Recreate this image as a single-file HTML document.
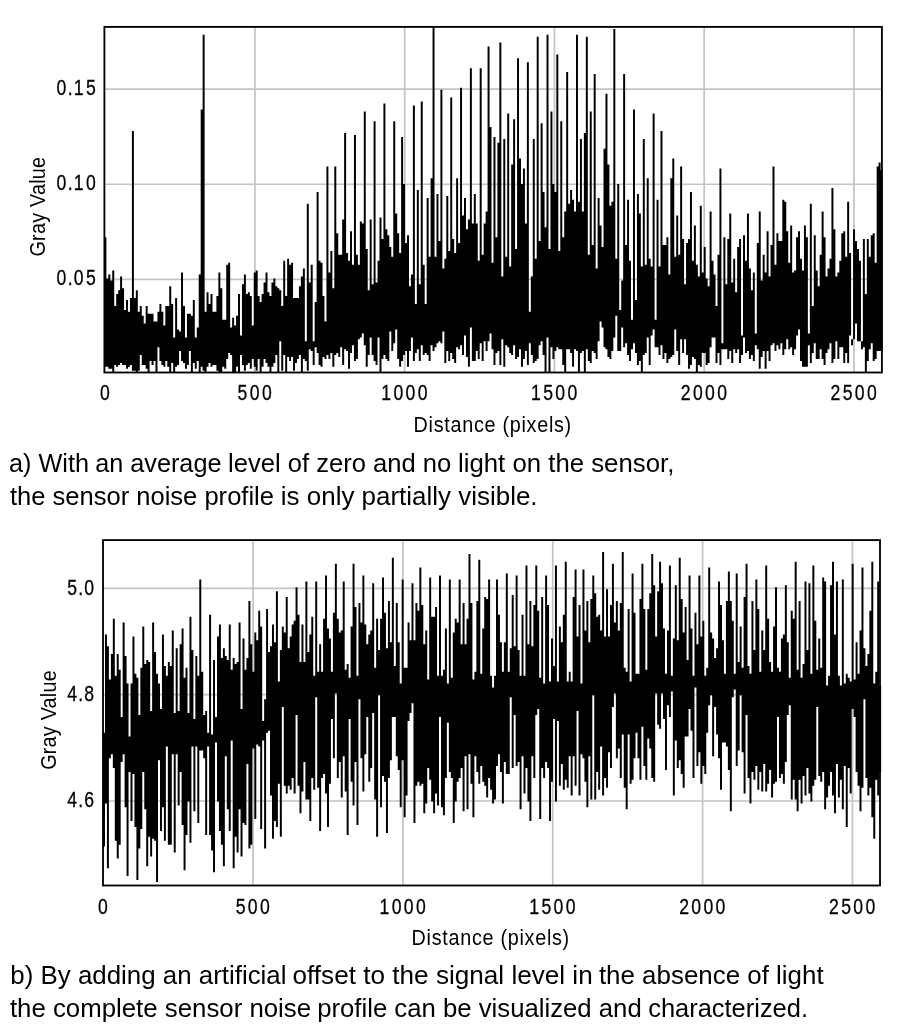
<!DOCTYPE html>
<html><head><meta charset="utf-8"><style>html,body{margin:0;padding:0;background:#fff;width:912px;height:1024px;overflow:hidden}svg{display:block}</style></head>
<body>
<svg width="912" height="1024" viewBox="0 0 912 1024">
<defs><filter id="bl" x="0" y="0" width="1" height="1"><feGaussianBlur stdDeviation="0.35"/></filter></defs>
<rect width="912" height="1024" fill="#fff"/>
<path d="M254.95 26.9V372.5M404.70 26.9V372.5M554.45 26.9V372.5M704.20 26.9V372.5M853.95 26.9V372.5M104.4 279.30H881.9M104.4 184.25H881.9M104.4 89.20H881.9" stroke="#c4c4c4" stroke-width="1.7" fill="none"/>
<path d="M104.40 237.2h1.97V366.8h-1.97zM106.37 278.4h1.97V366.8h-1.97zM108.33 274.5h1.97V368.8h-1.97zM110.30 280.4h1.97V368.8h-1.97zM112.26 270.6h1.97V372.5h-1.97zM114.23 305.9h1.97V364.9h-1.97zM116.19 294.1h1.97V366.8h-1.97zM118.16 290.2h1.97V364.9h-1.97zM120.12 276.5h1.97V362.9h-1.97zM122.09 288.2h1.97V364.9h-1.97zM124.05 309.9h1.97V364.9h-1.97zM126.02 300.0h1.97V368.8h-1.97zM127.98 311.8h1.97V366.8h-1.97zM129.95 298.1h1.97V364.9h-1.97zM131.91 131.0h1.97V370.8h-1.97zM133.88 298.1h1.97V370.8h-1.97zM135.84 290.2h1.97V372.5h-1.97zM137.81 311.8h1.97V370.8h-1.97zM139.77 305.9h1.97V355.1h-1.97zM141.74 315.8h1.97V364.9h-1.97zM143.70 323.6h1.97V364.9h-1.97zM145.67 305.9h1.97V368.8h-1.97zM147.63 313.8h1.97V372.5h-1.97zM149.60 313.8h1.97V360.9h-1.97zM151.56 313.8h1.97V364.9h-1.97zM153.53 321.6h1.97V360.9h-1.97zM155.49 321.6h1.97V372.5h-1.97zM157.46 311.8h1.97V347.2h-1.97zM159.42 304.0h1.97V360.9h-1.97zM161.39 311.8h1.97V364.9h-1.97zM163.35 325.6h1.97V366.8h-1.97zM165.32 305.9h1.97V360.9h-1.97zM167.28 305.9h1.97V366.8h-1.97zM169.25 286.3h1.97V372.5h-1.97zM171.21 304.0h1.97V362.9h-1.97zM173.18 337.4h1.97V372.5h-1.97zM175.14 298.1h1.97V366.8h-1.97zM177.11 329.5h1.97V364.9h-1.97zM179.07 331.5h1.97V351.1h-1.97zM181.04 272.5h1.97V360.9h-1.97zM183.00 305.9h1.97V362.9h-1.97zM184.97 337.4h1.97V368.8h-1.97zM186.93 313.8h1.97V364.9h-1.97zM188.90 313.8h1.97V351.1h-1.97zM190.86 315.8h1.97V372.5h-1.97zM192.83 300.0h1.97V362.9h-1.97zM194.79 337.4h1.97V368.8h-1.97zM196.76 327.5h1.97V360.9h-1.97zM198.72 274.5h1.97V372.5h-1.97zM200.69 109.4h1.97V366.8h-1.97zM202.65 34.8h1.97V370.8h-1.97zM204.62 311.8h1.97V372.5h-1.97zM206.58 292.2h1.97V366.8h-1.97zM208.55 304.0h1.97V362.9h-1.97zM210.51 294.1h1.97V366.8h-1.97zM212.48 311.8h1.97V364.9h-1.97zM214.44 311.8h1.97V364.9h-1.97zM216.41 296.1h1.97V370.8h-1.97zM218.37 272.5h1.97V372.5h-1.97zM220.34 288.2h1.97V372.5h-1.97zM222.30 319.7h1.97V366.8h-1.97zM224.27 319.7h1.97V368.8h-1.97zM226.23 264.7h1.97V359.0h-1.97zM228.20 262.7h1.97V353.1h-1.97zM230.16 327.5h1.97V355.1h-1.97zM232.13 317.7h1.97V372.5h-1.97zM234.09 325.6h1.97V372.5h-1.97zM236.06 315.8h1.97V366.8h-1.97zM238.02 294.1h1.97V372.5h-1.97zM239.99 335.4h1.97V355.1h-1.97zM241.95 284.3h1.97V364.9h-1.97zM243.92 274.5h1.97V370.8h-1.97zM245.88 294.1h1.97V364.9h-1.97zM247.84 292.2h1.97V362.9h-1.97zM249.81 296.1h1.97V368.8h-1.97zM251.78 325.6h1.97V359.0h-1.97zM253.74 272.5h1.97V366.8h-1.97zM255.71 270.6h1.97V370.8h-1.97zM257.67 296.1h1.97V359.0h-1.97zM259.63 302.0h1.97V372.5h-1.97zM261.60 294.1h1.97V366.8h-1.97zM263.56 282.4h1.97V359.0h-1.97zM265.53 272.5h1.97V362.9h-1.97zM267.50 292.2h1.97V366.8h-1.97zM269.46 296.1h1.97V372.5h-1.97zM271.43 282.4h1.97V366.8h-1.97zM273.39 278.4h1.97V362.9h-1.97zM275.36 286.3h1.97V355.1h-1.97zM277.32 288.2h1.97V372.5h-1.97zM279.29 290.2h1.97V341.3h-1.97zM281.25 305.9h1.97V370.8h-1.97zM283.21 260.7h1.97V355.1h-1.97zM285.18 296.1h1.97V372.5h-1.97zM287.14 258.8h1.97V357.0h-1.97zM289.11 264.7h1.97V360.9h-1.97zM291.07 262.7h1.97V357.0h-1.97zM293.04 298.1h1.97V370.8h-1.97zM295.00 298.1h1.97V362.9h-1.97zM296.97 298.1h1.97V359.0h-1.97zM298.94 286.3h1.97V355.1h-1.97zM300.90 276.5h1.97V372.5h-1.97zM302.87 268.6h1.97V359.0h-1.97zM304.83 341.3h1.97V360.9h-1.97zM306.80 203.8h1.97V370.8h-1.97zM308.76 282.4h1.97V349.2h-1.97zM310.73 264.7h1.97V351.1h-1.97zM312.69 341.3h1.97V364.9h-1.97zM314.65 302.0h1.97V347.2h-1.97zM316.62 192.0h1.97V353.1h-1.97zM318.58 260.7h1.97V364.9h-1.97zM320.55 262.7h1.97V366.8h-1.97zM322.51 296.1h1.97V357.0h-1.97zM324.48 321.6h1.97V359.0h-1.97zM326.44 166.4h1.97V355.1h-1.97zM328.41 272.5h1.97V359.0h-1.97zM330.38 250.9h1.97V353.1h-1.97zM332.34 288.2h1.97V366.8h-1.97zM334.31 166.4h1.97V355.1h-1.97zM336.27 233.2h1.97V353.1h-1.97zM338.24 254.8h1.97V357.0h-1.97zM340.20 254.8h1.97V347.2h-1.97zM342.17 219.5h1.97V364.9h-1.97zM344.13 133.0h1.97V349.2h-1.97zM346.10 252.9h1.97V351.1h-1.97zM348.06 260.7h1.97V368.8h-1.97zM350.02 231.3h1.97V353.1h-1.97zM351.99 264.7h1.97V345.2h-1.97zM353.95 135.0h1.97V360.9h-1.97zM355.92 254.8h1.97V359.0h-1.97zM357.88 264.7h1.97V339.3h-1.97zM359.85 221.4h1.97V337.4h-1.97zM361.81 223.4h1.97V333.4h-1.97zM363.78 111.4h1.97V345.2h-1.97zM365.75 248.9h1.97V366.8h-1.97zM367.71 290.2h1.97V355.1h-1.97zM369.68 219.5h1.97V337.4h-1.97zM371.64 284.3h1.97V355.1h-1.97zM373.60 121.2h1.97V360.9h-1.97zM375.57 282.4h1.97V364.9h-1.97zM377.53 260.7h1.97V337.4h-1.97zM379.50 217.5h1.97V372.5h-1.97zM381.46 239.1h1.97V359.0h-1.97zM383.43 103.5h1.97V355.1h-1.97zM385.39 229.3h1.97V359.0h-1.97zM387.36 235.2h1.97V360.9h-1.97zM389.32 247.0h1.97V331.5h-1.97zM391.29 256.8h1.97V351.1h-1.97zM393.25 121.2h1.97V343.3h-1.97zM395.22 213.6h1.97V329.5h-1.97zM397.19 233.2h1.97V359.0h-1.97zM399.15 252.9h1.97V366.8h-1.97zM401.12 136.9h1.97V360.9h-1.97zM403.08 184.1h1.97V355.1h-1.97zM405.05 243.1h1.97V351.1h-1.97zM407.01 235.2h1.97V366.8h-1.97zM408.97 286.3h1.97V351.1h-1.97zM410.94 274.5h1.97V337.4h-1.97zM412.90 105.5h1.97V360.9h-1.97zM414.87 304.0h1.97V353.1h-1.97zM416.83 190.0h1.97V349.2h-1.97zM418.80 284.3h1.97V360.9h-1.97zM420.76 101.6h1.97V345.2h-1.97zM422.73 264.7h1.97V355.1h-1.97zM424.69 304.0h1.97V353.1h-1.97zM426.66 197.9h1.97V355.1h-1.97zM428.62 256.8h1.97V360.9h-1.97zM430.59 178.2h1.97V345.2h-1.97zM432.56 26.9h1.97V351.1h-1.97zM434.52 256.8h1.97V347.2h-1.97zM436.49 193.9h1.97V343.3h-1.97zM438.45 241.1h1.97V341.3h-1.97zM440.41 89.8h1.97V343.3h-1.97zM442.38 268.6h1.97V331.5h-1.97zM444.34 258.8h1.97V362.9h-1.97zM446.31 195.9h1.97V351.1h-1.97zM448.27 250.9h1.97V360.9h-1.97zM450.24 97.6h1.97V353.1h-1.97zM452.20 239.1h1.97V359.0h-1.97zM454.17 252.9h1.97V362.9h-1.97zM456.13 178.2h1.97V347.2h-1.97zM458.10 243.1h1.97V349.2h-1.97zM460.06 87.8h1.97V345.2h-1.97zM462.03 215.5h1.97V355.1h-1.97zM464.00 197.9h1.97V335.4h-1.97zM465.96 229.3h1.97V357.0h-1.97zM467.93 219.5h1.97V366.8h-1.97zM469.89 68.2h1.97V327.5h-1.97zM471.86 223.4h1.97V360.9h-1.97zM473.82 193.9h1.97V360.9h-1.97zM475.78 223.4h1.97V351.1h-1.97zM477.75 260.7h1.97V359.0h-1.97zM479.71 68.2h1.97V343.3h-1.97zM481.68 254.8h1.97V360.9h-1.97zM483.64 223.4h1.97V341.3h-1.97zM485.61 211.6h1.97V351.1h-1.97zM487.57 46.5h1.97V341.3h-1.97zM489.54 127.1h1.97V333.4h-1.97zM491.50 262.7h1.97V349.2h-1.97zM493.47 136.9h1.97V364.9h-1.97zM495.44 237.2h1.97V353.1h-1.97zM497.40 142.8h1.97V351.1h-1.97zM499.37 42.6h1.97V364.9h-1.97zM501.33 276.5h1.97V339.3h-1.97zM503.30 138.9h1.97V366.8h-1.97zM505.26 256.8h1.97V345.2h-1.97zM507.22 113.4h1.97V347.2h-1.97zM509.19 266.6h1.97V353.1h-1.97zM511.16 164.5h1.97V355.1h-1.97zM513.12 119.3h1.97V345.2h-1.97zM515.09 248.9h1.97V359.0h-1.97zM517.05 58.3h1.97V357.0h-1.97zM519.02 158.6h1.97V349.2h-1.97zM520.98 184.1h1.97V366.8h-1.97zM522.95 168.4h1.97V359.0h-1.97zM524.91 223.4h1.97V351.1h-1.97zM526.88 62.3h1.97V364.9h-1.97zM528.84 311.8h1.97V343.3h-1.97zM530.81 276.5h1.97V355.1h-1.97zM532.77 138.9h1.97V362.9h-1.97zM534.74 258.8h1.97V360.9h-1.97zM536.70 36.7h1.97V359.0h-1.97zM538.67 241.1h1.97V345.2h-1.97zM540.63 123.2h1.97V341.3h-1.97zM542.60 192.0h1.97V355.1h-1.97zM544.56 227.3h1.97V372.5h-1.97zM546.53 34.8h1.97V337.4h-1.97zM548.49 248.9h1.97V372.5h-1.97zM550.46 111.4h1.97V347.2h-1.97zM552.42 184.1h1.97V359.0h-1.97zM554.39 192.0h1.97V351.1h-1.97zM556.35 54.4h1.97V347.2h-1.97zM558.32 250.9h1.97V349.2h-1.97zM560.28 121.2h1.97V349.2h-1.97zM562.25 237.2h1.97V364.9h-1.97zM564.21 211.6h1.97V372.5h-1.97zM566.18 72.1h1.97V349.2h-1.97zM568.14 203.8h1.97V349.2h-1.97zM570.11 190.0h1.97V353.1h-1.97zM572.07 199.8h1.97V366.8h-1.97zM574.04 211.6h1.97V349.2h-1.97zM576.00 34.8h1.97V351.1h-1.97zM577.97 201.8h1.97V372.5h-1.97zM579.93 138.9h1.97V353.1h-1.97zM581.90 211.6h1.97V351.1h-1.97zM583.86 133.0h1.97V372.5h-1.97zM585.83 36.7h1.97V349.2h-1.97zM587.79 254.8h1.97V360.9h-1.97zM589.76 111.4h1.97V362.9h-1.97zM591.72 245.0h1.97V351.1h-1.97zM593.69 74.1h1.97V353.1h-1.97zM595.65 268.6h1.97V359.0h-1.97zM597.62 197.9h1.97V341.3h-1.97zM599.58 225.4h1.97V321.6h-1.97zM601.55 247.0h1.97V327.5h-1.97zM603.51 148.7h1.97V347.2h-1.97zM605.48 93.7h1.97V349.2h-1.97zM607.44 164.5h1.97V357.0h-1.97zM609.41 205.7h1.97V359.0h-1.97zM611.37 201.8h1.97V351.1h-1.97zM613.34 28.9h1.97V337.4h-1.97zM615.30 258.8h1.97V315.8h-1.97zM617.27 184.1h1.97V351.1h-1.97zM619.23 309.9h1.97V351.1h-1.97zM621.20 280.4h1.97V327.5h-1.97zM623.16 74.1h1.97V347.2h-1.97zM625.13 245.0h1.97V343.3h-1.97zM627.09 199.8h1.97V355.1h-1.97zM629.06 260.7h1.97V360.9h-1.97zM631.02 319.7h1.97V349.2h-1.97zM632.99 109.4h1.97V343.3h-1.97zM634.95 300.0h1.97V353.1h-1.97zM636.92 193.9h1.97V364.9h-1.97zM638.88 213.6h1.97V360.9h-1.97zM640.85 266.6h1.97V372.5h-1.97zM642.81 138.9h1.97V355.1h-1.97zM644.78 264.7h1.97V353.1h-1.97zM646.74 178.2h1.97V337.4h-1.97zM648.71 258.8h1.97V364.9h-1.97zM650.67 266.6h1.97V335.4h-1.97zM652.64 113.4h1.97V329.5h-1.97zM654.60 319.7h1.97V347.2h-1.97zM656.57 199.8h1.97V347.2h-1.97zM658.53 266.6h1.97V355.1h-1.97zM660.50 131.0h1.97V345.2h-1.97zM662.46 245.0h1.97V359.0h-1.97zM664.43 245.0h1.97V353.1h-1.97zM666.39 237.2h1.97V362.9h-1.97zM668.36 274.5h1.97V359.0h-1.97zM670.32 178.2h1.97V357.0h-1.97zM672.29 158.6h1.97V355.1h-1.97zM674.25 256.8h1.97V329.5h-1.97zM676.22 215.5h1.97V351.1h-1.97zM678.18 254.8h1.97V364.9h-1.97zM680.15 166.4h1.97V339.3h-1.97zM682.11 239.1h1.97V353.1h-1.97zM684.08 284.3h1.97V339.3h-1.97zM686.04 243.1h1.97V355.1h-1.97zM688.01 239.1h1.97V368.8h-1.97zM689.97 192.0h1.97V364.9h-1.97zM691.94 260.7h1.97V357.0h-1.97zM693.90 225.4h1.97V359.0h-1.97zM695.87 264.7h1.97V372.5h-1.97zM697.83 276.5h1.97V364.9h-1.97zM699.80 205.7h1.97V366.8h-1.97zM701.76 272.5h1.97V353.1h-1.97zM703.73 247.0h1.97V353.1h-1.97zM705.69 278.4h1.97V364.9h-1.97zM707.66 286.3h1.97V362.9h-1.97zM709.62 211.6h1.97V347.2h-1.97zM711.59 260.7h1.97V337.4h-1.97zM713.55 274.5h1.97V337.4h-1.97zM715.52 305.9h1.97V362.9h-1.97zM717.48 254.8h1.97V353.1h-1.97zM719.45 168.4h1.97V364.9h-1.97zM721.41 343.3h1.97V349.2h-1.97zM723.38 237.2h1.97V349.2h-1.97zM725.34 284.3h1.97V349.2h-1.97zM727.31 239.1h1.97V359.0h-1.97zM729.27 213.6h1.97V351.1h-1.97zM731.24 282.4h1.97V362.9h-1.97zM733.20 258.8h1.97V349.2h-1.97zM735.17 292.2h1.97V353.1h-1.97zM737.13 247.0h1.97V349.2h-1.97zM739.10 239.1h1.97V362.9h-1.97zM741.06 335.4h1.97V355.1h-1.97zM743.03 235.2h1.97V337.4h-1.97zM744.99 260.7h1.97V353.1h-1.97zM746.96 213.6h1.97V351.1h-1.97zM748.92 268.6h1.97V359.0h-1.97zM750.89 290.2h1.97V355.1h-1.97zM752.85 272.5h1.97V360.9h-1.97zM754.82 333.4h1.97V345.2h-1.97zM756.78 243.1h1.97V349.2h-1.97zM758.75 211.6h1.97V368.8h-1.97zM760.71 280.4h1.97V357.0h-1.97zM762.68 254.8h1.97V351.1h-1.97zM764.64 272.5h1.97V368.8h-1.97zM766.61 231.3h1.97V351.1h-1.97zM768.57 276.5h1.97V360.9h-1.97zM770.54 245.0h1.97V345.2h-1.97zM772.50 166.4h1.97V343.3h-1.97zM774.47 264.7h1.97V351.1h-1.97zM776.43 233.2h1.97V345.2h-1.97zM778.40 241.1h1.97V349.2h-1.97zM780.36 241.1h1.97V343.3h-1.97zM782.33 199.8h1.97V355.1h-1.97zM784.29 201.8h1.97V349.2h-1.97zM786.26 231.3h1.97V339.3h-1.97zM788.22 262.7h1.97V349.2h-1.97zM790.19 225.4h1.97V347.2h-1.97zM792.15 272.5h1.97V355.1h-1.97zM794.12 270.6h1.97V349.2h-1.97zM796.08 237.2h1.97V335.4h-1.97zM798.05 231.3h1.97V329.5h-1.97zM800.01 258.8h1.97V360.9h-1.97zM801.98 270.6h1.97V366.8h-1.97zM803.94 225.4h1.97V366.8h-1.97zM805.91 237.2h1.97V366.8h-1.97zM807.87 345.2h1.97V333.4h-1.97zM809.84 203.8h1.97V362.9h-1.97zM811.80 305.9h1.97V353.1h-1.97zM813.77 235.2h1.97V343.3h-1.97zM815.73 270.6h1.97V359.0h-1.97zM817.70 286.3h1.97V359.0h-1.97zM819.66 254.8h1.97V349.2h-1.97zM821.63 211.6h1.97V359.0h-1.97zM823.59 237.2h1.97V364.9h-1.97zM825.56 276.5h1.97V353.1h-1.97zM827.52 268.6h1.97V349.2h-1.97zM829.49 258.8h1.97V343.3h-1.97zM831.45 188.0h1.97V362.9h-1.97zM833.42 229.3h1.97V359.0h-1.97zM835.38 276.5h1.97V341.3h-1.97zM837.35 272.5h1.97V359.0h-1.97zM839.31 260.7h1.97V347.2h-1.97zM841.28 233.2h1.97V347.2h-1.97zM843.24 231.3h1.97V362.9h-1.97zM845.21 256.8h1.97V353.1h-1.97zM847.17 201.8h1.97V362.9h-1.97zM849.14 252.9h1.97V335.4h-1.97zM851.10 339.3h1.97V345.2h-1.97zM853.07 229.3h1.97V339.3h-1.97zM855.03 241.1h1.97V323.6h-1.97zM857.00 248.9h1.97V341.3h-1.97zM858.96 260.7h1.97V341.3h-1.97zM860.93 341.3h1.97V349.2h-1.97zM862.89 239.1h1.97V347.2h-1.97zM864.86 294.1h1.97V372.5h-1.97zM866.82 239.1h1.97V360.9h-1.97zM868.79 256.8h1.97V349.2h-1.97zM870.75 235.2h1.97V343.3h-1.97zM872.72 233.2h1.97V360.9h-1.97zM874.68 262.7h1.97V359.0h-1.97zM876.65 166.4h1.97V351.1h-1.97zM878.61 162.5h1.97V351.1h-1.97zM880.58 170.3h1.97V351.1h-1.97z" fill="#000" filter="url(#bl)"/>
<rect x="104.4" y="26.9" width="777.5" height="345.6" stroke="#000" stroke-width="1.85" fill="none"/>
<path d="M253.05 540.1V885.5M402.90 540.1V885.5M552.75 540.1V885.5M702.60 540.1V885.5M852.45 540.1V885.5M103.0 801.00H880.0M103.0 694.70H880.0M103.0 588.40H880.0" stroke="#c4c4c4" stroke-width="1.7" fill="none"/>
<path d="M103.00 732.7h1.97V846.6h-1.97zM104.97 634.4h1.97V803.4h-1.97zM106.93 646.2h1.97V868.3h-1.97zM108.89 679.6h1.97V758.2h-1.97zM110.86 654.1h1.97V754.3h-1.97zM112.83 618.7h1.97V768.0h-1.97zM114.79 675.7h1.97V840.7h-1.97zM116.75 654.1h1.97V858.4h-1.97zM118.72 669.8h1.97V844.7h-1.97zM120.69 717.0h1.97V762.1h-1.97zM122.65 622.6h1.97V754.3h-1.97zM124.61 656.0h1.97V807.3h-1.97zM126.58 683.5h1.97V876.1h-1.97zM128.55 736.6h1.97V772.0h-1.97zM130.51 683.5h1.97V821.1h-1.97zM132.48 636.4h1.97V773.9h-1.97zM134.44 673.7h1.97V827.0h-1.97zM136.41 677.7h1.97V880.0h-1.97zM138.37 715.0h1.97V848.6h-1.97zM140.34 667.8h1.97V829.0h-1.97zM142.30 626.6h1.97V772.0h-1.97zM144.27 663.9h1.97V809.3h-1.97zM146.23 660.0h1.97V866.3h-1.97zM148.20 661.9h1.97V836.8h-1.97zM150.16 711.1h1.97V856.5h-1.97zM152.13 622.6h1.97V838.8h-1.97zM154.09 652.1h1.97V840.7h-1.97zM156.06 673.7h1.97V882.0h-1.97zM158.02 683.5h1.97V760.2h-1.97zM159.99 709.1h1.97V830.9h-1.97zM161.95 634.4h1.97V807.3h-1.97zM163.92 665.9h1.97V840.7h-1.97zM165.88 675.7h1.97V746.4h-1.97zM167.84 661.9h1.97V844.7h-1.97zM169.81 665.9h1.97V844.7h-1.97zM171.78 630.5h1.97V754.3h-1.97zM173.74 713.0h1.97V852.5h-1.97zM175.71 648.2h1.97V754.3h-1.97zM177.67 711.1h1.97V805.4h-1.97zM179.64 644.2h1.97V772.0h-1.97zM181.60 628.5h1.97V825.0h-1.97zM183.57 677.7h1.97V870.2h-1.97zM185.53 667.8h1.97V834.9h-1.97zM187.50 713.0h1.97V801.4h-1.97zM189.46 616.7h1.97V842.7h-1.97zM191.43 650.1h1.97V746.4h-1.97zM193.39 718.9h1.97V811.3h-1.97zM195.36 656.0h1.97V746.4h-1.97zM197.32 675.7h1.97V823.1h-1.97zM199.29 579.4h1.97V750.4h-1.97zM201.25 671.8h1.97V750.4h-1.97zM203.22 715.0h1.97V758.2h-1.97zM205.18 711.1h1.97V834.9h-1.97zM207.15 732.7h1.97V746.4h-1.97zM209.11 614.8h1.97V834.9h-1.97zM211.08 734.6h1.97V850.6h-1.97zM213.04 660.0h1.97V872.2h-1.97zM215.01 717.0h1.97V742.5h-1.97zM216.97 636.4h1.97V801.4h-1.97zM218.94 624.6h1.97V830.9h-1.97zM220.90 658.0h1.97V844.7h-1.97zM222.87 648.2h1.97V866.3h-1.97zM224.83 656.0h1.97V756.2h-1.97zM226.80 660.0h1.97V809.3h-1.97zM228.76 624.6h1.97V830.9h-1.97zM230.73 669.8h1.97V740.5h-1.97zM232.69 658.0h1.97V868.3h-1.97zM234.66 663.9h1.97V836.8h-1.97zM236.62 661.9h1.97V852.5h-1.97zM238.59 622.6h1.97V809.3h-1.97zM240.55 709.1h1.97V856.5h-1.97zM242.52 638.4h1.97V823.1h-1.97zM244.48 669.8h1.97V825.0h-1.97zM246.45 658.0h1.97V764.1h-1.97zM248.41 601.0h1.97V848.6h-1.97zM250.38 644.2h1.97V844.7h-1.97zM252.34 671.8h1.97V748.4h-1.97zM254.31 632.5h1.97V819.1h-1.97zM256.27 640.3h1.97V744.5h-1.97zM258.24 610.8h1.97V746.4h-1.97zM260.20 626.6h1.97V829.0h-1.97zM262.17 720.9h1.97V740.5h-1.97zM264.13 699.3h1.97V848.6h-1.97zM266.09 608.9h1.97V732.7h-1.97zM268.06 652.1h1.97V730.7h-1.97zM270.02 646.2h1.97V795.6h-1.97zM271.99 624.6h1.97V838.8h-1.97zM273.95 642.3h1.97V821.1h-1.97zM275.92 591.2h1.97V827.0h-1.97zM277.88 681.6h1.97V783.8h-1.97zM279.85 650.1h1.97V836.8h-1.97zM281.81 626.6h1.97V707.1h-1.97zM283.78 632.5h1.97V785.7h-1.97zM285.75 597.1h1.97V793.6h-1.97zM287.71 648.2h1.97V785.7h-1.97zM289.68 636.4h1.97V789.7h-1.97zM291.64 624.6h1.97V777.9h-1.97zM293.61 620.7h1.97V793.6h-1.97zM295.57 587.3h1.97V715.0h-1.97zM297.53 614.8h1.97V785.7h-1.97zM299.50 661.9h1.97V813.2h-1.97zM301.46 624.6h1.97V791.6h-1.97zM303.43 661.9h1.97V762.1h-1.97zM305.39 581.4h1.97V799.5h-1.97zM307.36 652.1h1.97V799.5h-1.97zM309.32 634.4h1.97V821.1h-1.97zM311.29 616.7h1.97V777.9h-1.97zM313.25 675.7h1.97V789.7h-1.97zM315.22 581.4h1.97V697.3h-1.97zM317.19 671.8h1.97V787.7h-1.97zM319.15 644.2h1.97V830.9h-1.97zM321.12 671.8h1.97V777.9h-1.97zM323.08 618.7h1.97V773.9h-1.97zM325.05 575.5h1.97V793.6h-1.97zM327.01 628.5h1.97V827.0h-1.97zM328.98 638.4h1.97V783.8h-1.97zM330.94 671.8h1.97V718.9h-1.97zM332.90 612.8h1.97V758.2h-1.97zM334.87 563.7h1.97V693.4h-1.97zM336.83 618.7h1.97V777.9h-1.97zM338.80 632.5h1.97V762.1h-1.97zM340.76 630.5h1.97V797.5h-1.97zM342.73 581.4h1.97V756.2h-1.97zM344.69 669.8h1.97V791.6h-1.97zM346.66 663.9h1.97V834.9h-1.97zM348.62 677.7h1.97V718.9h-1.97zM350.59 626.6h1.97V781.8h-1.97zM352.56 563.7h1.97V805.4h-1.97zM354.52 606.9h1.97V762.1h-1.97zM356.49 675.7h1.97V825.0h-1.97zM358.45 603.0h1.97V699.3h-1.97zM360.42 622.6h1.97V758.2h-1.97zM362.38 575.5h1.97V791.6h-1.97zM364.35 624.6h1.97V754.3h-1.97zM366.31 644.2h1.97V717.0h-1.97zM368.28 634.4h1.97V781.8h-1.97zM370.24 630.5h1.97V768.0h-1.97zM372.20 583.3h1.97V713.0h-1.97zM374.17 667.8h1.97V799.5h-1.97zM376.13 618.7h1.97V836.8h-1.97zM378.10 650.1h1.97V695.3h-1.97zM380.06 618.7h1.97V807.3h-1.97zM382.03 577.4h1.97V775.9h-1.97zM384.00 612.8h1.97V781.8h-1.97zM385.96 648.2h1.97V832.9h-1.97zM387.93 601.0h1.97V777.9h-1.97zM389.89 642.3h1.97V760.2h-1.97zM391.86 557.8h1.97V717.0h-1.97zM393.82 665.9h1.97V717.0h-1.97zM395.79 603.0h1.97V756.2h-1.97zM397.75 642.3h1.97V770.0h-1.97zM399.72 683.5h1.97V807.3h-1.97zM401.68 579.4h1.97V760.2h-1.97zM403.65 667.8h1.97V817.2h-1.97zM405.61 667.8h1.97V795.6h-1.97zM407.57 622.6h1.97V720.9h-1.97zM409.54 640.3h1.97V713.0h-1.97zM411.50 583.3h1.97V703.2h-1.97zM413.47 640.3h1.97V823.1h-1.97zM415.44 603.0h1.97V785.7h-1.97zM417.40 610.8h1.97V781.8h-1.97zM419.37 567.6h1.97V785.7h-1.97zM421.33 604.9h1.97V783.8h-1.97zM423.30 644.2h1.97V813.2h-1.97zM425.26 630.5h1.97V803.4h-1.97zM427.23 679.6h1.97V768.0h-1.97zM429.19 577.4h1.97V779.8h-1.97zM431.16 616.7h1.97V801.4h-1.97zM433.12 616.7h1.97V813.2h-1.97zM435.09 606.9h1.97V793.6h-1.97zM437.05 675.7h1.97V805.4h-1.97zM439.01 575.5h1.97V717.0h-1.97zM440.98 675.7h1.97V807.3h-1.97zM442.94 669.8h1.97V815.2h-1.97zM444.91 628.5h1.97V777.9h-1.97zM446.88 683.5h1.97V722.8h-1.97zM448.84 579.4h1.97V772.0h-1.97zM450.81 677.7h1.97V777.9h-1.97zM452.77 632.5h1.97V823.1h-1.97zM454.74 618.7h1.97V801.4h-1.97zM456.70 622.6h1.97V781.8h-1.97zM458.67 579.4h1.97V777.9h-1.97zM460.63 644.2h1.97V768.0h-1.97zM462.60 603.0h1.97V811.3h-1.97zM464.56 644.2h1.97V756.2h-1.97zM466.53 618.7h1.97V809.3h-1.97zM468.49 553.9h1.97V754.3h-1.97zM470.46 603.0h1.97V783.8h-1.97zM472.42 679.6h1.97V817.2h-1.97zM474.38 671.8h1.97V756.2h-1.97zM476.35 601.0h1.97V772.0h-1.97zM478.31 559.8h1.97V783.8h-1.97zM480.28 673.7h1.97V766.1h-1.97zM482.25 628.5h1.97V781.8h-1.97zM484.21 597.1h1.97V785.7h-1.97zM486.18 599.1h1.97V797.5h-1.97zM488.14 579.4h1.97V777.9h-1.97zM490.11 675.7h1.97V789.7h-1.97zM492.07 687.5h1.97V803.4h-1.97zM494.04 675.7h1.97V799.5h-1.97zM496.00 579.4h1.97V766.1h-1.97zM497.97 614.8h1.97V754.3h-1.97zM499.93 642.3h1.97V772.0h-1.97zM501.90 671.8h1.97V803.4h-1.97zM503.86 642.3h1.97V762.1h-1.97zM505.82 573.5h1.97V773.9h-1.97zM507.79 671.8h1.97V773.9h-1.97zM509.75 648.2h1.97V697.3h-1.97zM511.72 595.1h1.97V768.0h-1.97zM513.69 646.2h1.97V715.0h-1.97zM515.65 575.5h1.97V766.1h-1.97zM517.62 650.1h1.97V762.1h-1.97zM519.58 675.7h1.97V809.3h-1.97zM521.55 614.8h1.97V756.2h-1.97zM523.51 675.7h1.97V793.6h-1.97zM525.48 565.6h1.97V768.0h-1.97zM527.44 644.2h1.97V801.4h-1.97zM529.41 601.0h1.97V821.1h-1.97zM531.37 646.2h1.97V756.2h-1.97zM533.34 604.9h1.97V777.9h-1.97zM535.30 565.6h1.97V715.0h-1.97zM537.27 610.8h1.97V709.1h-1.97zM539.23 677.7h1.97V819.1h-1.97zM541.20 597.1h1.97V768.0h-1.97zM543.16 683.5h1.97V777.9h-1.97zM545.12 575.5h1.97V762.1h-1.97zM547.09 604.9h1.97V768.0h-1.97zM549.06 681.6h1.97V821.1h-1.97zM551.02 638.4h1.97V781.8h-1.97zM552.99 665.9h1.97V718.9h-1.97zM554.95 565.6h1.97V801.4h-1.97zM556.92 681.6h1.97V720.9h-1.97zM558.88 626.6h1.97V785.7h-1.97zM560.85 642.3h1.97V764.1h-1.97zM562.81 614.8h1.97V789.7h-1.97zM564.78 561.7h1.97V779.8h-1.97zM566.74 681.6h1.97V787.7h-1.97zM568.71 671.8h1.97V756.2h-1.97zM570.67 681.6h1.97V795.6h-1.97zM572.63 597.1h1.97V756.2h-1.97zM574.60 569.6h1.97V785.7h-1.97zM576.57 636.4h1.97V711.1h-1.97zM578.53 604.9h1.97V795.6h-1.97zM580.50 683.5h1.97V754.3h-1.97zM582.46 569.6h1.97V758.2h-1.97zM584.43 630.5h1.97V781.8h-1.97zM586.39 601.0h1.97V807.3h-1.97zM588.36 642.3h1.97V756.2h-1.97zM590.32 599.1h1.97V799.5h-1.97zM592.29 575.5h1.97V695.3h-1.97zM594.25 593.2h1.97V799.5h-1.97zM596.22 616.7h1.97V772.0h-1.97zM598.18 614.8h1.97V789.7h-1.97zM600.15 630.5h1.97V746.4h-1.97zM602.11 551.9h1.97V795.6h-1.97zM604.08 636.4h1.97V777.9h-1.97zM606.04 589.2h1.97V787.7h-1.97zM608.00 636.4h1.97V752.3h-1.97zM609.97 604.9h1.97V768.0h-1.97zM611.94 563.7h1.97V707.1h-1.97zM613.90 622.6h1.97V693.4h-1.97zM615.87 601.0h1.97V758.2h-1.97zM617.83 630.5h1.97V748.4h-1.97zM619.80 603.0h1.97V777.9h-1.97zM621.76 551.9h1.97V734.6h-1.97zM623.73 667.8h1.97V787.7h-1.97zM625.69 671.8h1.97V809.3h-1.97zM627.65 608.9h1.97V734.6h-1.97zM629.62 681.6h1.97V783.8h-1.97zM631.59 573.5h1.97V779.8h-1.97zM633.55 612.8h1.97V758.2h-1.97zM635.51 673.7h1.97V732.7h-1.97zM637.48 673.7h1.97V758.2h-1.97zM639.45 599.1h1.97V779.8h-1.97zM641.41 563.7h1.97V726.8h-1.97zM643.38 608.9h1.97V766.1h-1.97zM645.34 669.8h1.97V779.8h-1.97zM647.31 608.9h1.97V738.6h-1.97zM649.27 593.2h1.97V748.4h-1.97zM651.24 553.9h1.97V777.9h-1.97zM653.20 585.3h1.97V781.8h-1.97zM655.17 636.4h1.97V693.4h-1.97zM657.13 591.2h1.97V724.8h-1.97zM659.10 561.7h1.97V728.7h-1.97zM661.06 583.3h1.97V693.4h-1.97zM663.02 628.5h1.97V718.9h-1.97zM664.99 673.7h1.97V770.0h-1.97zM666.96 630.5h1.97V705.2h-1.97zM668.92 565.6h1.97V717.0h-1.97zM670.88 675.7h1.97V691.4h-1.97zM672.85 638.4h1.97V795.6h-1.97zM674.82 585.3h1.97V740.5h-1.97zM676.78 640.3h1.97V768.0h-1.97zM678.75 557.8h1.97V760.2h-1.97zM680.71 599.1h1.97V773.9h-1.97zM682.68 632.5h1.97V787.7h-1.97zM684.64 606.9h1.97V736.6h-1.97zM686.61 660.0h1.97V736.6h-1.97zM688.57 575.5h1.97V709.1h-1.97zM690.53 628.5h1.97V730.7h-1.97zM692.50 675.7h1.97V777.9h-1.97zM694.47 612.8h1.97V687.5h-1.97zM696.43 644.2h1.97V766.1h-1.97zM698.39 575.5h1.97V752.3h-1.97zM700.36 636.4h1.97V783.8h-1.97zM702.33 620.7h1.97V766.1h-1.97zM704.29 675.7h1.97V773.9h-1.97zM706.25 667.8h1.97V732.7h-1.97zM708.22 567.6h1.97V705.2h-1.97zM710.19 632.5h1.97V695.3h-1.97zM712.15 638.4h1.97V756.2h-1.97zM714.12 658.0h1.97V707.1h-1.97zM716.08 648.2h1.97V734.6h-1.97zM718.05 581.4h1.97V758.2h-1.97zM720.01 604.9h1.97V789.7h-1.97zM721.98 640.3h1.97V742.5h-1.97zM723.94 673.7h1.97V742.5h-1.97zM725.90 601.0h1.97V746.4h-1.97zM727.87 571.5h1.97V770.0h-1.97zM729.84 601.0h1.97V811.3h-1.97zM731.80 620.7h1.97V697.3h-1.97zM733.76 673.7h1.97V689.4h-1.97zM735.73 573.5h1.97V766.1h-1.97zM737.70 661.9h1.97V750.4h-1.97zM739.66 626.6h1.97V695.3h-1.97zM741.62 667.8h1.97V752.3h-1.97zM743.59 597.1h1.97V793.6h-1.97zM745.56 563.7h1.97V715.0h-1.97zM747.52 665.9h1.97V777.9h-1.97zM749.49 673.7h1.97V803.4h-1.97zM751.45 601.0h1.97V772.0h-1.97zM753.42 650.1h1.97V779.8h-1.97zM755.38 579.4h1.97V766.1h-1.97zM757.35 608.9h1.97V789.7h-1.97zM759.31 671.8h1.97V772.0h-1.97zM761.27 630.5h1.97V791.6h-1.97zM763.24 650.1h1.97V764.1h-1.97zM765.21 565.6h1.97V791.6h-1.97zM767.17 618.7h1.97V783.8h-1.97zM769.13 661.9h1.97V770.0h-1.97zM771.10 671.8h1.97V797.5h-1.97zM773.07 626.6h1.97V783.8h-1.97zM775.03 587.3h1.97V781.8h-1.97zM777.00 667.8h1.97V717.0h-1.97zM778.96 671.8h1.97V777.9h-1.97zM780.93 638.4h1.97V773.9h-1.97zM782.89 634.4h1.97V783.8h-1.97zM784.86 585.3h1.97V762.1h-1.97zM786.82 642.3h1.97V715.0h-1.97zM788.79 677.7h1.97V705.2h-1.97zM790.75 610.8h1.97V799.5h-1.97zM792.72 618.7h1.97V779.8h-1.97zM794.68 561.7h1.97V799.5h-1.97zM796.64 669.8h1.97V811.3h-1.97zM798.61 601.0h1.97V779.8h-1.97zM800.58 677.7h1.97V803.4h-1.97zM802.54 663.9h1.97V775.9h-1.97zM804.50 581.4h1.97V795.6h-1.97zM806.47 650.1h1.97V768.0h-1.97zM808.44 583.3h1.97V793.6h-1.97zM810.40 673.7h1.97V801.4h-1.97zM812.37 565.6h1.97V785.7h-1.97zM814.33 620.7h1.97V779.8h-1.97zM816.30 669.8h1.97V707.1h-1.97zM818.26 638.4h1.97V775.9h-1.97zM820.23 667.8h1.97V781.8h-1.97zM822.19 577.4h1.97V772.0h-1.97zM824.15 581.4h1.97V809.3h-1.97zM826.12 685.5h1.97V797.5h-1.97zM828.09 675.7h1.97V785.7h-1.97zM830.05 585.3h1.97V772.0h-1.97zM832.01 561.7h1.97V795.6h-1.97zM833.98 634.4h1.97V813.2h-1.97zM835.95 581.4h1.97V764.1h-1.97zM837.91 675.7h1.97V797.5h-1.97zM839.88 685.5h1.97V779.8h-1.97zM841.84 579.4h1.97V809.3h-1.97zM843.81 683.5h1.97V766.1h-1.97zM845.77 673.7h1.97V827.0h-1.97zM847.74 677.7h1.97V768.0h-1.97zM849.70 681.6h1.97V793.6h-1.97zM851.67 563.7h1.97V709.1h-1.97zM853.63 679.6h1.97V717.0h-1.97zM855.60 642.3h1.97V772.0h-1.97zM857.56 673.7h1.97V785.7h-1.97zM859.52 630.5h1.97V811.3h-1.97zM861.49 567.6h1.97V787.7h-1.97zM863.46 648.2h1.97V699.3h-1.97zM865.42 665.9h1.97V777.9h-1.97zM867.38 654.1h1.97V795.6h-1.97zM869.35 610.8h1.97V787.7h-1.97zM871.32 561.7h1.97V817.2h-1.97zM873.28 683.5h1.97V838.8h-1.97zM875.25 671.8h1.97V779.8h-1.97zM877.21 581.4h1.97V795.6h-1.97zM879.18 685.5h1.97V772.0h-1.97z" fill="#000" filter="url(#bl)"/>
<rect x="103.0" y="540.1" width="777.0" height="345.4" stroke="#000" stroke-width="1.85" fill="none"/>
<text transform="matrix(0.8 0 0 1 0 0)" x="76.91 87.62 98.34 113.53" y="95.00" text-anchor="middle" font-size="22" stroke="#000" stroke-width="0.3" font-family="'Liberation Sans', Arial, sans-serif">0.15</text>
<text transform="matrix(0.8 0 0 1 0 0)" x="76.91 87.62 98.34 113.53" y="190.05" text-anchor="middle" font-size="22" stroke="#000" stroke-width="0.3" font-family="'Liberation Sans', Arial, sans-serif">0.10</text>
<text transform="matrix(0.8 0 0 1 0 0)" x="76.91 87.62 98.34 113.53" y="285.10" text-anchor="middle" font-size="22" stroke="#000" stroke-width="0.3" font-family="'Liberation Sans', Arial, sans-serif">0.05</text>
<text transform="matrix(0.8 0 0 1 0 0)" x="131.12" y="400.50" text-anchor="middle" font-size="22" stroke="#000" stroke-width="0.3" font-family="'Liberation Sans', Arial, sans-serif">0</text>
<text transform="matrix(0.8 0 0 1 0 0)" x="303.12 318.31 333.50" y="400.50" text-anchor="middle" font-size="22" stroke="#000" stroke-width="0.3" font-family="'Liberation Sans', Arial, sans-serif">500</text>
<text transform="matrix(0.8 0 0 1 0 0)" x="482.72 497.91 513.09 528.28" y="400.50" text-anchor="middle" font-size="22" stroke="#000" stroke-width="0.3" font-family="'Liberation Sans', Arial, sans-serif">1000</text>
<text transform="matrix(0.8 0 0 1 0 0)" x="669.91 685.09 700.28 715.47" y="400.50" text-anchor="middle" font-size="22" stroke="#000" stroke-width="0.3" font-family="'Liberation Sans', Arial, sans-serif">1500</text>
<text transform="matrix(0.8 0 0 1 0 0)" x="857.09 872.28 887.47 902.66" y="400.50" text-anchor="middle" font-size="22" stroke="#000" stroke-width="0.3" font-family="'Liberation Sans', Arial, sans-serif">2000</text>
<text transform="matrix(0.8 0 0 1 0 0)" x="1044.28 1059.47 1074.66 1089.84" y="400.50" text-anchor="middle" font-size="22" stroke="#000" stroke-width="0.3" font-family="'Liberation Sans', Arial, sans-serif">2500</text>
<text transform="matrix(0.8 0 0 1 0 0)" x="90.09 100.81 111.53" y="594.60" text-anchor="middle" font-size="22" stroke="#000" stroke-width="0.3" font-family="'Liberation Sans', Arial, sans-serif">5.0</text>
<text transform="matrix(0.8 0 0 1 0 0)" x="90.09 100.81 111.53" y="700.90" text-anchor="middle" font-size="22" stroke="#000" stroke-width="0.3" font-family="'Liberation Sans', Arial, sans-serif">4.8</text>
<text transform="matrix(0.8 0 0 1 0 0)" x="90.09 100.81 111.53" y="807.20" text-anchor="middle" font-size="22" stroke="#000" stroke-width="0.3" font-family="'Liberation Sans', Arial, sans-serif">4.6</text>
<text transform="matrix(0.8 0 0 1 0 0)" x="128.62" y="913.70" text-anchor="middle" font-size="22" stroke="#000" stroke-width="0.3" font-family="'Liberation Sans', Arial, sans-serif">0</text>
<text transform="matrix(0.8 0 0 1 0 0)" x="300.75 315.94 331.12" y="913.70" text-anchor="middle" font-size="22" stroke="#000" stroke-width="0.3" font-family="'Liberation Sans', Arial, sans-serif">500</text>
<text transform="matrix(0.8 0 0 1 0 0)" x="480.47 495.66 510.84 526.03" y="913.70" text-anchor="middle" font-size="22" stroke="#000" stroke-width="0.3" font-family="'Liberation Sans', Arial, sans-serif">1000</text>
<text transform="matrix(0.8 0 0 1 0 0)" x="667.78 682.97 698.16 713.34" y="913.70" text-anchor="middle" font-size="22" stroke="#000" stroke-width="0.3" font-family="'Liberation Sans', Arial, sans-serif">1500</text>
<text transform="matrix(0.8 0 0 1 0 0)" x="855.09 870.28 885.47 900.66" y="913.70" text-anchor="middle" font-size="22" stroke="#000" stroke-width="0.3" font-family="'Liberation Sans', Arial, sans-serif">2000</text>
<text transform="matrix(0.8 0 0 1 0 0)" x="1042.41 1057.59 1072.78 1087.97" y="913.70" text-anchor="middle" font-size="22" stroke="#000" stroke-width="0.3" font-family="'Liberation Sans', Arial, sans-serif">2500</text>
<text transform="matrix(0.9 0 0 1 0 0)" x="459.56" y="431.75" font-size="22" textLength="175.11" lengthAdjust="spacing" font-family="'Liberation Sans', Arial, sans-serif">Distance (pixels)</text>
<text transform="matrix(0.9 0 0 1 0 0)" x="457.33" y="944.95" font-size="22" textLength="175.11" lengthAdjust="spacing" font-family="'Liberation Sans', Arial, sans-serif">Distance (pixels)</text>
<text transform="translate(44.7 256.5) rotate(-90) scale(0.9 1)" x="0" y="0" font-size="22" textLength="110.56" lengthAdjust="spacing" font-family="'Liberation Sans', Arial, sans-serif">Gray Value</text>
<text transform="translate(55.8 769.8) rotate(-90) scale(0.9 1)" x="0" y="0" font-size="22" textLength="110.56" lengthAdjust="spacing" font-family="'Liberation Sans', Arial, sans-serif">Gray Value</text>
<text x="9.0" y="472.2" font-size="26" textLength="80.0" lengthAdjust="spacingAndGlyphs" font-family="'Liberation Sans', Arial, sans-serif">a) With</text>
<text x="95.2" y="472.2" font-size="26" textLength="126.3" lengthAdjust="spacingAndGlyphs" font-family="'Liberation Sans', Arial, sans-serif">an average</text>
<text x="228.0" y="472.2" font-size="26" textLength="223.3" lengthAdjust="spacingAndGlyphs" font-family="'Liberation Sans', Arial, sans-serif">level of zero and no</text>
<text x="458.0" y="472.2" font-size="26" textLength="216.3" lengthAdjust="spacingAndGlyphs" font-family="'Liberation Sans', Arial, sans-serif">light on the sensor,</text>
<text x="9.9" y="505.2" font-size="26" textLength="264.1" lengthAdjust="spacingAndGlyphs" font-family="'Liberation Sans', Arial, sans-serif">the sensor noise profile</text>
<text x="280.8" y="505.2" font-size="26" textLength="256.8" lengthAdjust="spacingAndGlyphs" font-family="'Liberation Sans', Arial, sans-serif">is only partially visible.</text>
<text x="10.3" y="983.9" font-size="26" textLength="276.2" lengthAdjust="spacingAndGlyphs" font-family="'Liberation Sans', Arial, sans-serif">b) By adding an artificial</text>
<text x="292.6" y="983.9" font-size="26" textLength="63.3" lengthAdjust="spacingAndGlyphs" font-family="'Liberation Sans', Arial, sans-serif">offset</text>
<text x="363.3" y="983.9" font-size="26" textLength="229.4" lengthAdjust="spacingAndGlyphs" font-family="'Liberation Sans', Arial, sans-serif">to the signal level in</text>
<text x="598.9" y="983.9" font-size="26" textLength="224.7" lengthAdjust="spacingAndGlyphs" font-family="'Liberation Sans', Arial, sans-serif">the absence of light</text>
<text x="9.9" y="1016.6" font-size="26" textLength="301.2" lengthAdjust="spacingAndGlyphs" font-family="'Liberation Sans', Arial, sans-serif">the complete sensor noise</text>
<text x="317.2" y="1016.6" font-size="26" textLength="324.5" lengthAdjust="spacingAndGlyphs" font-family="'Liberation Sans', Arial, sans-serif">profile can be visualized and</text>
<text x="648.2" y="1016.6" font-size="26" textLength="159.8" lengthAdjust="spacingAndGlyphs" font-family="'Liberation Sans', Arial, sans-serif">characterized.</text>
</svg>
</body></html>
